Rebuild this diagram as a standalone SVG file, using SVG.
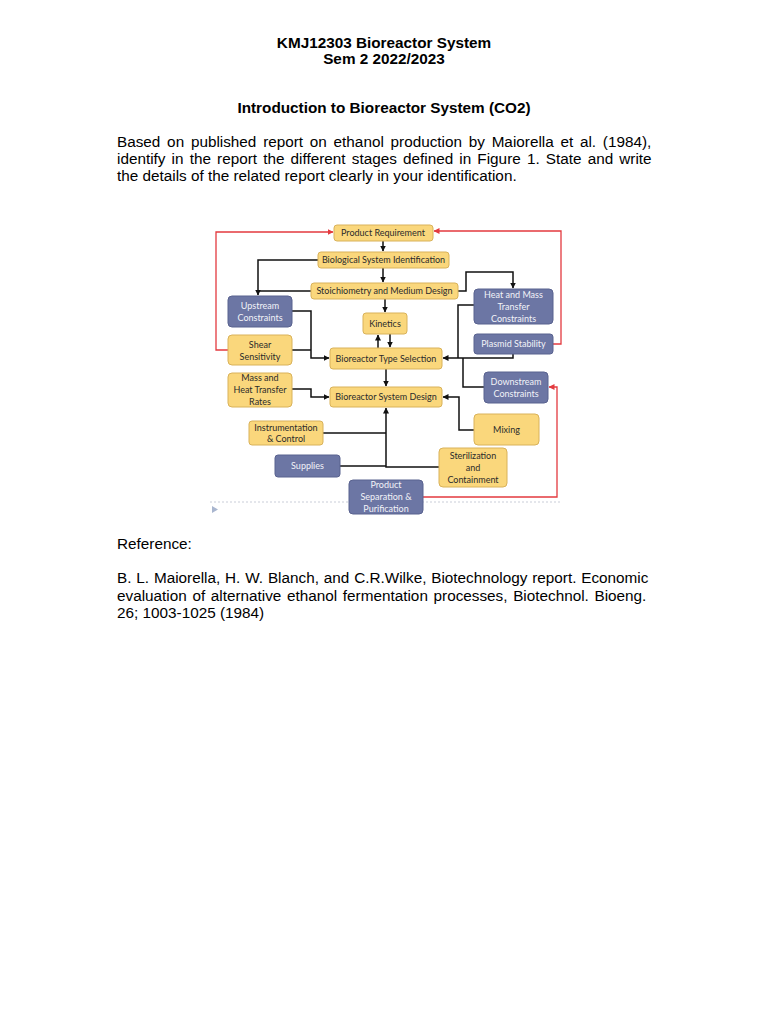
<svg xmlns="http://www.w3.org/2000/svg" width="768" height="1024" viewBox="0 0 768 1024">
<style>
.doc{font-family:"Liberation Sans",Arial,sans-serif;font-size:15.3px;fill:#000}
.b{font-weight:bold}
.y rect{fill:#fad77c;stroke:#d9b25a;stroke-width:1}
.u rect{fill:#6c76a4;stroke:#59628f;stroke-width:1}
.y text,.u text{font-family:Lato,"Noto Sans",sans-serif;font-size:9px;text-anchor:middle}
.y text{fill:#2b2b2b}
.u text{fill:#f2f3f8}
.k{fill:none;stroke:#111;stroke-width:1.5}
.r{fill:none;stroke:#e33a3f;stroke-width:1.3}
</style>
<defs>
<marker id="ak" markerUnits="userSpaceOnUse" markerWidth="6" markerHeight="6" refX="5.5" refY="3" orient="auto"><path d="M0,0 L6,3 L0,6 z" fill="#111"/></marker>
<marker id="ar" markerUnits="userSpaceOnUse" markerWidth="6" markerHeight="6" refX="5.5" refY="3" orient="auto"><path d="M0,0 L6,3 L0,6 z" fill="#e33a3f"/></marker>
</defs>
<rect width="768" height="1024" fill="#fff"/>

<g id="header">
<text class="doc b" x="384" y="48" text-anchor="middle">KMJ12303 Bioreactor System</text>
<text class="doc b" x="384" y="64" text-anchor="middle">Sem 2 2022/2023</text>
<text class="doc b" x="384" y="113" text-anchor="middle">Introduction to Bioreactor System (CO2)</text>
<text class="doc" x="117" y="147" word-spacing="2.5">Based on published report on ethanol production by Maiorella et al. (1984),</text>
<text class="doc" x="117" y="164" word-spacing="1.9">identify in the report the different stages defined in Figure 1. State and write</text>
<text class="doc" x="117" y="181">the details of the related report clearly in your identification.</text>
</g>

<g id="figure-frame">
<line x1="210" y1="502" x2="560" y2="502" stroke="#c9cdd8" stroke-width="1" stroke-dasharray="2 2"/>
<path d="M212,506 L218,509.5 L212,513 z" fill="#a9b6cf"/>
</g>

<g id="connectors">
<path class="r" d="M228,350 H216 V232 H333" marker-end="url(#ar)"/>
<path class="r" d="M553,344 H561 V231 H434" marker-end="url(#ar)"/>
<path class="r" d="M423,497 H557 V387 H549" marker-end="url(#ar)"/>
<path class="k" d="M383,241 V251" marker-end="url(#ak)"/>
<path class="k" d="M383,268 V282" marker-end="url(#ak)"/>
<path class="k" d="M318,260 H258 V295" marker-end="url(#ak)"/>
<path class="k" d="M311,291 H258"/>
<path class="k" d="M385,299 V312" marker-end="url(#ak)"/>
<path class="k" d="M378,348 V335" marker-end="url(#ak)"/>
<path class="k" d="M390,334 V347" marker-end="url(#ak)"/>
<path class="k" d="M386,369 V386" marker-end="url(#ak)"/>
<path class="k" d="M292,311 H311 V358 H329" marker-end="url(#ak)"/>
<path class="k" d="M292,350 H311"/>
<path class="k" d="M292,389 H311 V397 H329" marker-end="url(#ak)"/>
<path class="k" d="M458,291 H466 V272 H513 V288" marker-end="url(#ak)"/>
<path class="k" d="M474,305 H458 V358"/>
<path class="k" d="M513,354 V358 H443" marker-end="url(#ak)"/>
<path class="k" d="M484,387 H463 V358"/>
<path class="k" d="M474,430 H459 V397 H443" marker-end="url(#ak)"/>
<path class="k" d="M323,433 H386"/>
<path class="k" d="M340,466 H386"/>
<path class="k" d="M439,467 H386 V408" marker-end="url(#ak)"/>
</g>

<g id="n-product-req" class="y"><rect x="334" y="225" width="99" height="16" rx="3"/><text x="383" y="236">Product Requirement</text></g>
<g id="n-bio-sys" class="y"><rect x="318" y="252" width="131" height="16" rx="3"/><text x="383.5" y="263">Biological System Identification</text></g>
<g id="n-stoich" class="y"><rect x="311" y="283" width="147" height="16" rx="3"/><text x="384.5" y="294">Stoichiometry and Medium Design</text></g>
<g id="n-kinetics" class="y"><rect x="363" y="313" width="44" height="21" rx="3"/><text x="385" y="326.5">Kinetics</text></g>
<g id="n-bts" class="y"><rect x="330" y="348" width="112" height="21" rx="3"/><text x="386" y="361.5">Bioreactor Type Selection</text></g>
<g id="n-bsd" class="y"><rect x="330" y="387" width="112" height="20" rx="3"/><text x="386" y="400">Bioreactor System Design</text></g>
<g id="n-upstream" class="u"><rect x="228" y="296" width="64" height="31" rx="4"/><text x="260" y="309">Upstream</text><text x="260" y="321">Constraints</text></g>
<g id="n-shear" class="y"><rect x="228" y="335" width="64" height="30" rx="4"/><text x="260" y="347.5">Shear</text><text x="260" y="359.5">Sensitivity</text></g>
<g id="n-mass-heat" class="y"><rect x="228" y="373" width="64" height="34" rx="4"/><text x="260" y="381">Mass and</text><text x="260" y="393">Heat Transfer</text><text x="260" y="405">Rates</text></g>
<g id="n-instr" class="y"><rect x="249" y="421" width="74" height="24" rx="3"/><text x="286" y="430.5">Instrumentation</text><text x="286" y="441.5">&amp; Control</text></g>
<g id="n-supplies" class="u"><rect x="275" y="455" width="65" height="22" rx="3"/><text x="307.5" y="469">Supplies</text></g>
<g id="n-product-sep" class="u"><rect x="349" y="480" width="74" height="34" rx="4"/><text x="386" y="488">Product</text><text x="386" y="500">Separation &amp;</text><text x="386" y="512">Purification</text></g>
<g id="n-heat-mass" class="u"><rect x="474" y="289" width="79" height="35" rx="4"/><text x="513.5" y="298">Heat and Mass</text><text x="513.5" y="310">Transfer</text><text x="513.5" y="322">Constraints</text></g>
<g id="n-plasmid" class="u"><rect x="474" y="334" width="79" height="20" rx="3"/><text x="513.5" y="347">Plasmid Stability</text></g>
<g id="n-downstream" class="u"><rect x="484" y="372" width="64" height="31" rx="4"/><text x="516" y="385">Downstream</text><text x="516" y="397">Constraints</text></g>
<g id="n-mixing" class="y"><rect x="474" y="414" width="65" height="31" rx="4"/><text x="506.5" y="433">Mixing</text></g>
<g id="n-steril" class="y"><rect x="439" y="448" width="68" height="39" rx="4"/><text x="473" y="458.5">Sterilization</text><text x="473" y="470.5">and</text><text x="473" y="482.5">Containment</text></g>

<g id="reference">
<text class="doc" x="117" y="549">Reference:</text>
<text class="doc" x="117" y="583" word-spacing="0.6">B. L. Maiorella, H. W. Blanch, and C.R.Wilke, Biotechnology report. Economic</text>
<text class="doc" x="117" y="601" word-spacing="1.4">evaluation of alternative ethanol fermentation processes, Biotechnol. Bioeng.</text>
<text class="doc" x="117" y="618">26; 1003-1025 (1984)</text>
</g>
</svg>
